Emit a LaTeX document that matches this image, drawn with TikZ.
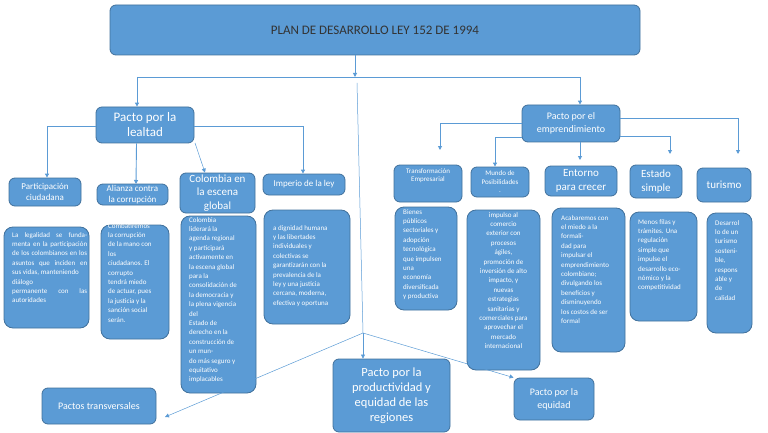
\documentclass[tikz,border=0pt]{standalone}
\usepackage{fontspec}
\setmainfont{Carlito}
\usetikzlibrary{arrows.meta}
\definecolor{bb}{HTML}{5B9BD5}
\definecolor{be}{HTML}{41719C}
\definecolor{ln}{HTML}{5B9BD5}
\tikzset{
  box/.style={draw=be,fill=bb,line width=0.8pt,rounded corners=6pt,text=white,align=center,inner sep=1pt},
  body/.style={draw=be,fill=bb,line width=0.8pt,rounded corners=9pt},
  btxt/.style={text=white,font=\fontsize{7}{9.4}\selectfont,inner sep=0pt,anchor=north west,align=left},
  conn/.style={draw=ln,line width=0.9pt},
  arr/.style={conn,-{Triangle[length=4pt,width=4pt]}},
  thin/.style={draw=ln,line width=0.5pt},
  tarr/.style={thin,-{Triangle[length=4pt,width=4pt]}}
}
\begin{document}
\begin{tikzpicture}[x=1pt,y=-1pt]
\useasboundingbox (0,0) rectangle (768,433);
% header boxes
\node[box,minimum width=530pt,minimum height=50pt,text=black!80,font=\fontsize{13}{15}\selectfont] (title) at (375,30) {PLAN DE DESARROLLO LEY 152 DE 1994};
\node[box,minimum width=98pt,minimum height=36pt,font=\fontsize{13}{15}\selectfont] (leal) at (145,125) {Pacto por la\\lealtad};
\node[box,minimum width=98pt,minimum height=37pt,font=\fontsize{10}{13}\selectfont] (emp) at (571,123.5) {Pacto por el\\emprendimiento};
\node[box,minimum width=72pt,minimum height=28pt,font=\fontsize{9}{11}\selectfont] (part) at (45,192) {Participación\\ciudadana};
\node[box,minimum width=71pt,minimum height=21pt,font=\fontsize{9}{11}\selectfont] (ali) at (132.5,194.5) {Alianza contra\\la corrupción};
\node[box,minimum width=75pt,minimum height=40pt,font=\fontsize{11}{13.5}\selectfont] (col) at (217.5,193) {Colombia en\\la escena\\global};
\node[box,minimum width=82pt,minimum height=21pt,font=\fontsize{9}{11}\selectfont] (imp) at (304,184.5) {Imperio de la ley};
\node[box,minimum width=68pt,minimum height=37pt,font=\fontsize{7}{8.5}\selectfont] (tra) at (428,183.5) {Transformación\\Empresarial\\[8pt]};
\node[box,minimum width=58pt,minimum height=30pt,font=\fontsize{7}{8.5}\selectfont] (mun) at (500,182) {Mundo de\\Posibilidades\\.};
\node[box,minimum width=72pt,minimum height=30pt,font=\fontsize{11}{13.5}\selectfont] (ent) at (581,181) {Entorno\\para crecer};
\node[box,minimum width=52pt,minimum height=33pt,font=\fontsize{11}{13.5}\selectfont] (est) at (656,181.5) {Estado\\simple};
\node[box,minimum width=54pt,minimum height=34pt,font=\fontsize{11}{13.5}\selectfont] (tur) at (724,185) {turismo};
\node[box,minimum width=114pt,minimum height=36pt,font=\fontsize{10}{12}\selectfont] (trv) at (99,406) {Pactos transversales};
\node[box,minimum width=117pt,minimum height=73pt,font=\fontsize{12.5}{15}\selectfont] (pro) at (391.5,395.5) {Pacto por la\\productividad y\\equidad de las\\regiones};
\node[box,minimum width=80pt,minimum height=42pt,font=\fontsize{10}{13}\selectfont] (equ) at (554,399) {Pacto por la\\equidad};
% body boxes
\draw[body] (4,227) rectangle (89,328);
\node[btxt,text width=75pt,align=justify] (t1) at (12,232) {La legalidad se fundamenta en la participación de los colombianos en los asuntos que inciden en sus vidas, manteniendo\\diálogo\\permanente con las autoridades};
\draw[body] (101,225) rectangle (169,339);
\node[btxt] (t2) at (108,223) {Combatiremos\\la corrupción\\de la mano con\\los\\ciudadanos. El\\corrupto\\tendrá miedo\\de actuar, pues\\la justicia y la\\sanción social\\serán.};
\draw[body] (181,216) rectangle (256,393);
\node[btxt] (t3) at (189,217) {Colombia\\liderará la\\agenda regional\\y participará\\activamente en\\la escena global\\para la\\consolidación de\\la democracia y\\la plena vigencia\\del\\Estado de\\derecho en la\\construcción de\\un mun-\\do más seguro y\\equitativo\\implacables};
\draw[body] (264,210) rectangle (350,324);
\node[btxt] (t4) at (273,225) {a dignidad humana\\y las libertades\\individuales y\\colectivas se\\garantizarán con la\\prevalencia de la\\ley y una justicia\\cercana, moderna,\\efectiva y oportuna};
\draw[body] (395,207) rectangle (457,310);
\node[btxt] (t5) at (403,209) {Bienes\\públicos\\sectoriales y\\adopción\\tecnológica\\que impulsen\\una\\economía\\diversificada\\y productiva};
\draw[body] (467,210) rectangle (540,370);
\node[btxt,anchor=north,align=center] (t6) at (503.5,212) {impulso al\\comercio\\exterior con\\procesos\\ágiles,\\promoción de\\inversión de alto\\impacto, y\\nuevas\\estrategias\\sanitarias y\\comerciales para\\aprovechar el\\mercado\\internacional};
\draw[body] (552,208) rectangle (625,352);
\node[btxt] (t7) at (561,215) {Acabaremos con\\el miedo a la\\formali-\\dad para\\impulsar el\\emprendimiento\\colombiano;\\divulgando los\\beneficios y\\disminuyendo\\los costos de ser\\formal};
\draw[body] (630,212) rectangle (697,321);
\node[btxt] (t8) at (638,219) {Menos filas y\\trámites. Una\\regulación\\simple que\\impulse el\\desarrollo eco-\\nómico y la\\competitividad};
\draw[body] (707,213) rectangle (752,333);
\node[btxt] (t9) at (715,220) {Desarrol\\lo de un\\turismo\\sosteni-\\ble,\\respons\\able y\\de\\calidad};
% connectors top
\coordinate (hub) at (355,77);
\coordinate (hl) at (137,77);
\coordinate (hr) at (580,77);
\draw[arr] (title.south -| hub) -- (hub);
\draw[conn] (hl) -- (hr);
\draw[arr] (hl) -- (hl |- leal.north);
\draw[arr] (hr) -- (hr |- emp.north);
% lealtad branches
\coordinate (lp) at (47,126);
\draw[arr] (leal.west |- lp) -- (lp) -- (lp |- part.north);
\draw[arr] (leal.south -| ali) ++(4,0) -- (136,184);
\coordinate (lc) at (195,143);
\draw[thin,-{Triangle[length=4pt,width=4pt]}] (lc) -- (col.north -| 205,0);
\coordinate (li) at (303,126);
\draw[arr] (leal.east |- li) -- (li) -- (li |- imp.north);
% emprendimiento branches
\coordinate (e1) at (440,123);
\draw[arr] (emp.west |- e1) -- (e1) -- (440,150);
\coordinate (e2) at (495,137);
\draw[arr] (emp.west |- e2) -- (e2) -- (e2 |- mun.north);
\draw[arr] (emp.south -| 580,0) -- (580,160);
\coordinate (e4) at (670,136);
\draw[arr] (emp.east |- e4) -- (e4) -- (670,154);
\coordinate (e5) at (738,118);
\draw[arr] (emp.east |- e5) -- (e5) -- (738,154);
% central line
\coordinate (c0) at (357,83);
\coordinate (cb) at (363,333);
\draw[thin] (c0) -- (cb);
\draw[tarr] (cb) -- (165,417);
\draw[tarr] (cb) -- (pro.north -| cb);
\draw[tarr] (cb) -- (equ.north west);
\end{tikzpicture}
\end{document}
